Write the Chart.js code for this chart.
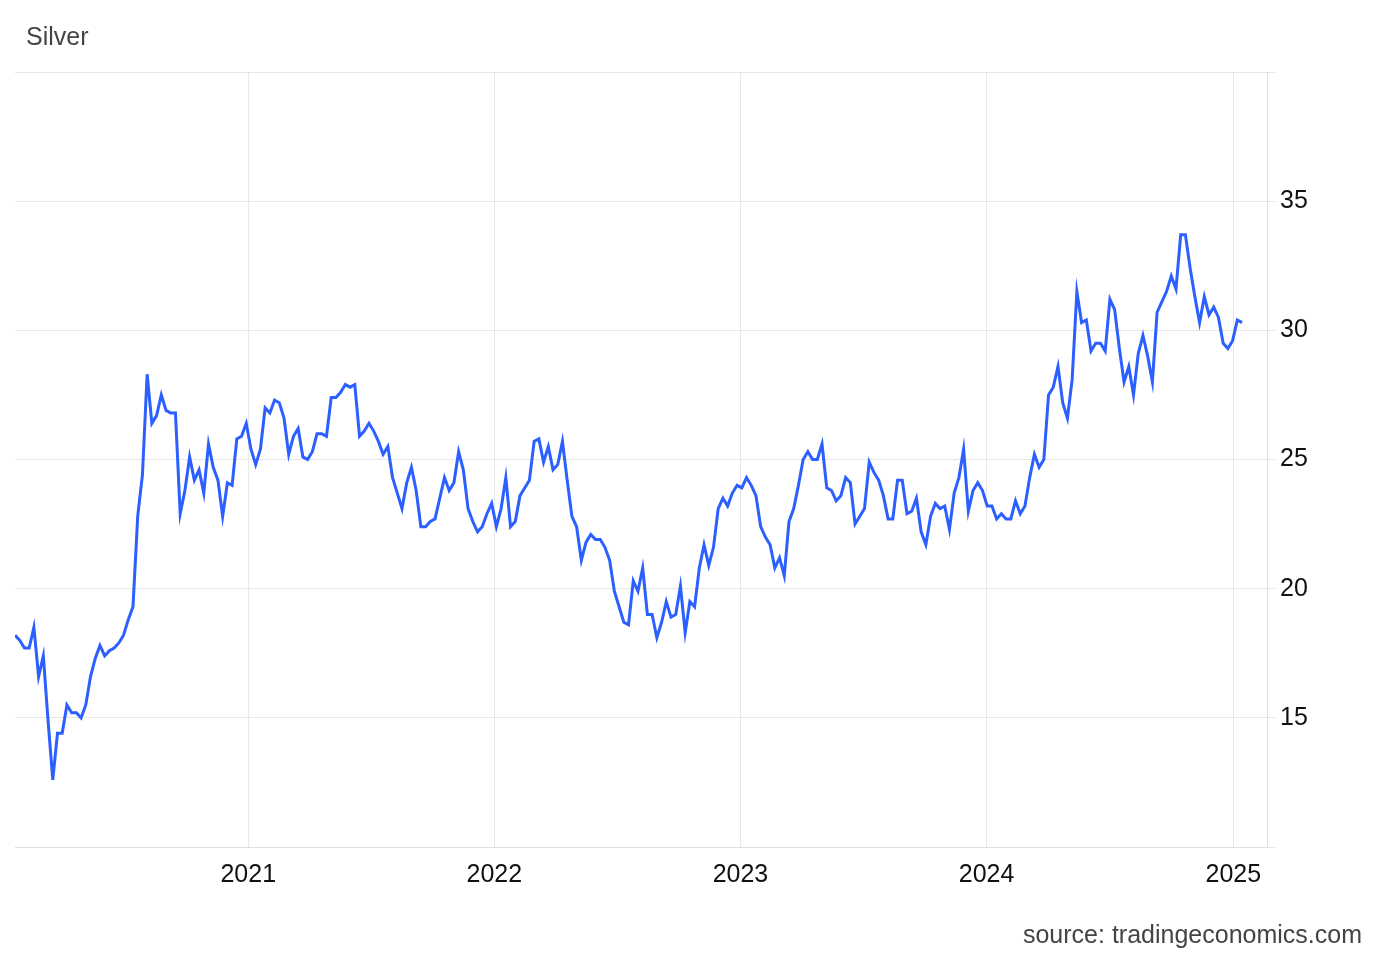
<!DOCTYPE html>
<html><head><meta charset="utf-8">
<script src="https://cdn.jsdelivr.net/npm/chart.js@4/dist/chart.umd.min.js"></script>
<style>
html,body{margin:0;padding:0;background:#fff;}
#wrap{position:relative;width:1381px;height:957px;}
#title{position:absolute;left:26px;top:22px;font:25px "Liberation Sans",Arial,sans-serif;color:#444;}
#src{position:absolute;right:19px;top:920px;font:25px "Liberation Sans",Arial,sans-serif;color:#444;}
</style></head><body>
<div id="wrap"><canvas id="c" width="1381" height="957"></canvas>
<div id="title">Silver</div><div id="src">source: tradingeconomics.com</div></div>
<script>
const seriesName = "Silver";
const startDate = "2020-01-21"; // weekly observations
const yearTicks = [2021, 2022, 2023, 2024, 2025];
const priceTicks = [15, 20, 25, 30, 35];
const prices = [
18.2,18.0,17.7,17.7,18.5,16.6,17.4,14.9,12.6,14.4,
14.4,15.5,15.2,15.2,15.0,15.5,16.6,17.3,17.8,17.4,
17.6,17.7,17.9,18.2,18.8,19.3,22.8,24.4,28.3,26.4,
26.7,27.5,26.9,26.8,26.8,22.9,23.8,25.1,24.2,24.6,
23.7,25.6,24.7,24.2,22.8,24.1,24.0,25.8,25.9,26.4,
25.4,24.8,25.4,27.0,26.8,27.3,27.2,26.6,25.2,25.9,
26.2,25.1,25.0,25.3,26.0,26.0,25.9,27.4,27.4,27.6,
27.9,27.8,27.9,25.9,26.1,26.4,26.1,25.7,25.2,25.5,
24.3,23.7,23.1,24.1,24.7,23.8,22.4,22.4,22.6,22.7,
23.5,24.3,23.8,24.1,25.3,24.6,23.1,22.6,22.2,22.4,
22.9,23.3,22.4,23.1,24.3,22.4,22.6,23.6,23.9,24.2,
25.7,25.8,24.9,25.5,24.6,24.8,25.7,24.2,22.8,22.4,
21.1,21.8,22.1,21.9,21.9,21.6,21.1,19.9,19.3,18.7,
18.6,20.3,19.9,20.8,19.0,19.0,18.1,18.7,19.5,18.9,
19.0,20.1,18.3,19.5,19.3,20.8,21.7,20.9,21.6,23.1,
23.5,23.2,23.7,24.0,23.9,24.3,24.0,23.6,22.4,22.0,
21.7,20.8,21.2,20.5,22.6,23.1,24.0,25.0,25.3,25.0,
25.0,25.6,23.9,23.8,23.4,23.6,24.3,24.1,22.5,22.8,
23.1,24.9,24.5,24.2,23.6,22.7,22.7,24.2,24.2,22.9,
23.0,23.5,22.2,21.7,22.8,23.3,23.1,23.2,22.3,23.7,
24.3,25.4,23.0,23.8,24.1,23.8,23.2,23.2,22.7,22.9,
22.7,22.7,23.4,22.9,23.2,24.3,25.2,24.7,25.0,27.5,
27.8,28.6,27.2,26.6,28.1,31.5,30.3,30.4,29.2,29.5,
29.5,29.2,31.2,30.8,29.3,28.0,28.6,27.5,29.1,29.8,
29.0,28.0,30.7,31.1,31.5,32.1,31.6,33.7,33.7,32.4,
31.3,30.3,31.3,30.6,30.9,30.5,29.5,29.3,29.6,30.4,
30.3
];
const DAY = 86400000;
const t0 = Date.parse(startDate + "T00:00:00Z");
const points = prices.map((v, i) => ({x: t0 + i * 7 * DAY, y: v}));
const xMin = t0, xMax = Date.UTC(2025, 1, 20);
const tickFont = {family: '"Liberation Sans", Arial, sans-serif', size: 25};

new Chart(document.getElementById('c'), {
  type: 'line',
  data: {datasets: [{label: seriesName, data: points, borderColor: '#2b5fff', borderWidth: 3, pointRadius: 0, tension: 0, fill: false}]},
  options: {
    responsive: false, animation: false,
    layout: {padding: {top: 72, left: 15, right: 0, bottom: 0}},
    plugins: {legend: {display: false}, tooltip: {enabled: false}},
    scales: {
      x: {type: 'linear', min: xMin, max: xMax,
        afterBuildTicks: s => { s.ticks = yearTicks.map(y => ({value: Date.UTC(y, 0, 1)})); },
        ticks: {callback: v => new Date(v).getUTCFullYear(), color: '#111', font: tickFont, maxRotation: 0, padding: 13},
        grid: {color: '#e8e8e8', drawTicks: false}, border: {display: true, color: '#e0e0e0'},
        afterFit: s => { s.height = 110; }
      },
      y: {position: 'right', min: 10, max: 40,
        afterBuildTicks: s => { s.ticks = [10, ...priceTicks, 40].map(v => ({value: v})); },
        ticks: {callback: v => priceTicks.includes(v) ? v : '', color: '#111', font: tickFont, padding: 5},
        grid: {color: '#e6e6e6', tickLength: 8}, border: {display: true, color: '#e0e0e0'},
        afterFit: s => { s.width = 114; }
      }
    }
  }
});
</script></body></html>
